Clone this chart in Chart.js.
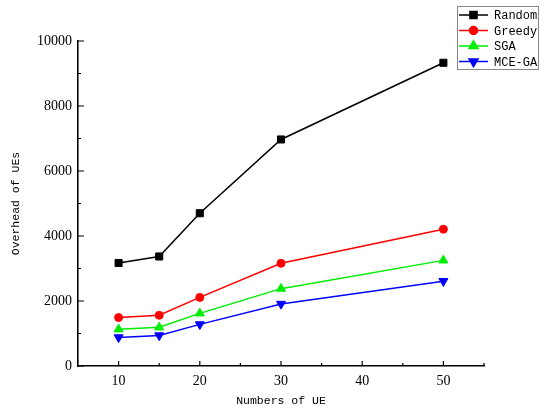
<!DOCTYPE html>
<html>
<head>
<meta charset="utf-8">
<script src="https://cdn.jsdelivr.net/npm/chart.js@4/dist/chart.umd.min.js"></script>
<style>
  html, body { margin: 0; padding: 0; background: #fff; }
  #wrap { width: 550px; height: 411px; position: relative; }
</style>
</head>
<body>
<div id="wrap"><canvas id="chart"></canvas></div>
<script>
// data
const ueCounts = [10, 15, 20, 30, 50];
const randomVals = [3170, 3370, 4700, 6970, 9330];
const greedyVals = [1490, 1560, 2110, 3160, 4210];
const sgaVals = [1130, 1190, 1620, 2380, 3250];
const mceGaVals = [880, 940, 1280, 1910, 2610];

const xMajor = [10, 20, 30, 40, 50];
const xMinor = [15, 25, 35, 45, 55];
const yMajor = [0, 2000, 4000, 6000, 8000, 10000];
const yMinor = [1000, 3000, 5000, 7000, 9000];

const toPoints = vals => vals.map((v, i) => ({ x: ueCounts[i], y: v }));

const series = [
    { label: 'Random', data: randomVals, color: '#000000', style: 'rect', radius: 5, rotation: 0 },
    { label: 'Greedy', data: greedyVals, color: '#ff0000', style: 'circle', radius: 4, rotation: 0 },
    { label: 'SGA', data: sgaVals, color: '#00ee00', style: 'triangle', radius: 5.2, rotation: 0 },
    { label: 'MCE-GA', data: mceGaVals, color: '#0000ff', style: 'triangle', radius: 5.2, rotation: 180 }
];

// ticks pointing into the plot, drawn from the scales
const innerTicks = {
    id: 'innerTicks',
    afterDraw(chart) {
        const c = chart.ctx;
        const xs = chart.scales.x, ys = chart.scales.y;
        const area = chart.chartArea;
        c.save();
        c.strokeStyle = '#000';
        c.lineWidth = 1.2;
        c.beginPath();
        xMajor.forEach(v => { const p = xs.getPixelForValue(v); c.moveTo(p, area.bottom); c.lineTo(p, area.bottom - 5); });
        xMinor.forEach(v => { const p = xs.getPixelForValue(v); c.moveTo(p, area.bottom); c.lineTo(p, area.bottom - 3); });
        yMajor.forEach(v => { const p = ys.getPixelForValue(v); c.moveTo(area.left, p); c.lineTo(area.left + 6, p); });
        yMinor.forEach(v => { const p = ys.getPixelForValue(v); c.moveTo(area.left, p); c.lineTo(area.left + 3, p); });
        c.stroke();
        c.restore();
    }
};

// boxed legend in the top right corner
const boxLegend = {
    id: 'boxLegend',
    afterDraw(chart) {
        const c = chart.ctx;
        const bx = 457.5, by = 6.5, bw = 81, bh = 63;
        c.save();
        c.fillStyle = '#fff';
        c.fillRect(bx, by, bw, bh);
        c.strokeStyle = '#888';
        c.lineWidth = 1;
        c.strokeRect(bx, by, bw, bh);
        c.font = '12px "Liberation Mono"';
        c.textBaseline = 'middle';
        series.forEach((s, i) => {
            const y = 15 + i * 15.5;
            c.strokeStyle = s.color;
            c.lineWidth = 1.5;
            c.beginPath();
            c.moveTo(459, y);
            c.lineTo(488, y);
            c.stroke();
            c.fillStyle = s.color;
            Chart.helpers.drawPoint(c, {
                pointStyle: s.style, radius: s.radius, rotation: s.rotation, borderWidth: 1
            }, 473.5, y);
            c.fill();
            c.fillStyle = '#000';
            c.fillText(s.label, 494, y + 1);
        });
        c.restore();
    }
};

const ctx = document.getElementById('chart').getContext('2d');
const chart = new Chart(ctx, {
    type: 'line',
    data: {
        datasets: series.map(s => ({
            label: s.label,
            data: toPoints(s.data),
            borderColor: s.color,
            backgroundColor: s.color,
            pointBackgroundColor: s.color,
            pointBorderColor: s.color,
            pointStyle: s.style,
            pointRadius: s.radius,
            pointRotation: s.rotation,
            borderWidth: 1.5,
            pointBorderWidth: 1,
            tension: 0
        }))
    },
    options: {
        responsive: true,
        maintainAspectRatio: false,
        animation: false,
        layout: { padding: { left: 0, top: 41, right: 66, bottom: 0 }, autoPadding: false },
        plugins: {
            legend: { display: false },
            tooltip: { enabled: false }
        },
        scales: {
            x: {
                type: 'linear',
                min: 5,
                max: 55,
                afterBuildTicks: s => { s.ticks = xMajor.map(v => ({ value: v })); },
                afterFit: s => { s.height = 45; },
                grid: { display: true, drawOnChartArea: false, drawTicks: false },
                border: { display: true, color: '#000', width: 1.6 },
                ticks: {
                    color: '#000',
                    padding: 7,
                    maxRotation: 0,
                    callback: v => String(v),
                    font: { family: '"Liberation Serif"', size: 14 }
                },
                title: {
                    display: true,
                    text: 'Numbers of UE',
                    color: '#000',
                    padding: { top: 0, bottom: 3 },
                    font: { family: '"Liberation Mono"', size: 11.5 }
                }
            },
            y: {
                min: 0,
                max: 10000,
                afterBuildTicks: s => { s.ticks = yMajor.map(v => ({ value: v })); },
                afterFit: s => { s.width = 78; },
                grid: { display: true, drawOnChartArea: false, drawTicks: false },
                border: { display: true, color: '#000', width: 1.6 },
                ticks: {
                    color: '#000',
                    padding: 6,
                    callback: v => String(v),
                    font: { family: '"Liberation Serif"', size: 14 }
                },
                title: {
                    display: true,
                    text: 'Overhead of UEs',
                    color: '#000',
                    padding: { top: 9, bottom: 0 },
                    font: { family: '"Liberation Mono"', size: 11.5 }
                }
            }
        }
    },
    plugins: [innerTicks, boxLegend]
});
</script>
</body>
</html>
